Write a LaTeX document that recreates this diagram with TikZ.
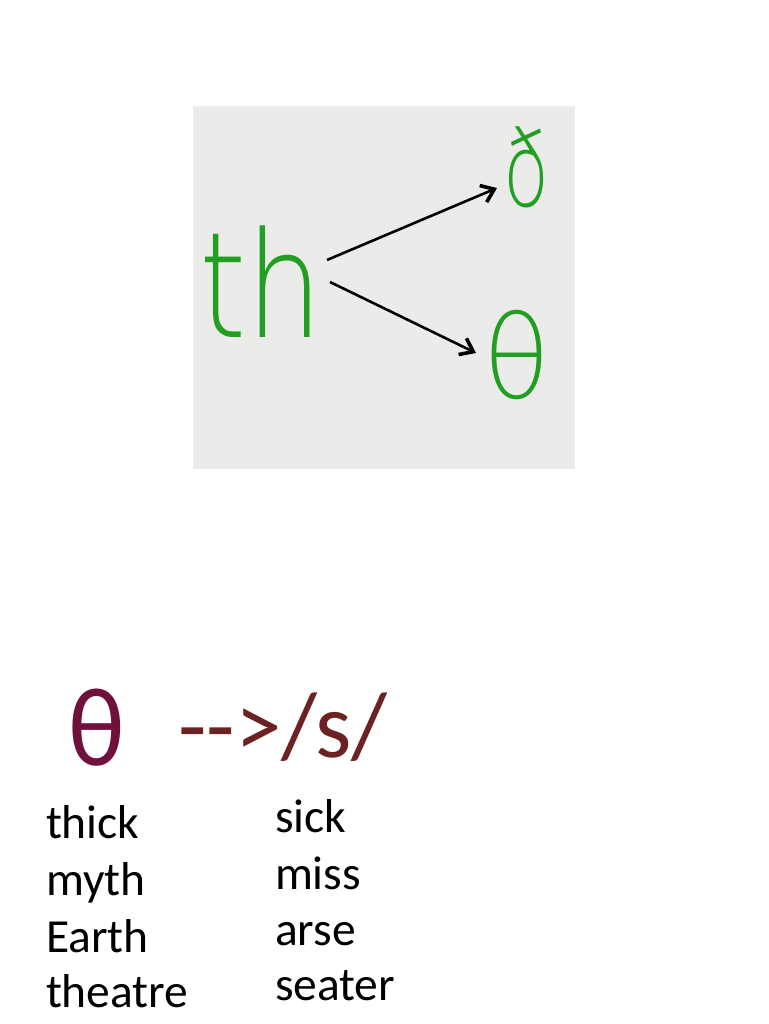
\documentclass[tikz,border=0pt]{standalone}
\usepackage{fontspec}
\usetikzlibrary{arrows.meta}
\setmainfont{Carlito}
\newfontfamily\handfont{DejaVu Sans ExtraLight}
\definecolor{boxgray}{RGB}{235,235,234}
\definecolor{handgreen}{RGB}{34,158,34}
\definecolor{thetared}{RGB}{112,16,60}
\definecolor{arrowred}{RGB}{108,34,34}
\tikzset{
  hand/.style={inner sep=0pt, outer sep=0pt, text=handgreen, anchor=base, font=\handfont},
  word/.style={inner sep=0pt, outer sep=0pt, anchor=base west, font=\fontsize{47.5}{54}\selectfont},
  sketcharrow/.style={draw=black, line width=2.6pt, -{Straight Barb[length=12pt,width=18pt,line width=3.6pt]}}
}
\begin{document}
\begin{tikzpicture}[x=1pt,y=-1pt]
\useasboundingbox (0,0) rectangle (768,1024);
\fill[white] (0,0) rectangle (768,1024);
% image panel
\fill[boxgray] (193,106) rectangle (575,469);
\node[hand, font=\handfont\fontsize{147}{150}\selectfont] (th) at (261,337) {\scalebox{0.82}[1]{th}};
\node[hand, font=\handfont\fontsize{105}{110}\selectfont] (eth) at (527,207) {\scalebox{0.72}[1]{ð}};
\node[hand, font=\handfont\fontsize{115}{118}\selectfont] (thetaG) at (517,398) {\scalebox{0.95}[1]{θ}};
\coordinate (a1s) at (327,260);
\coordinate (a1e) at (497,188);
\coordinate (a2s) at (330,282);
\coordinate (a2e) at (476,353);
\draw[sketcharrow] (a1s) -- (a1e);
\draw[sketcharrow] (a2s) -- (a2e);
% bottom
\node[inner sep=0pt, anchor=base, text=thetared, font=\fontsize{112}{115}\selectfont] (thetaB) at (97,765) {\scalebox{0.95}[1]{θ}};
\node[inner sep=0pt, anchor=base west, text=arrowred, font=\fontsize{93}{96}\selectfont] (rule) at (178,757) {-{}->/s/};
\node[word] (w1) at (46,838) {thick};
\node[word] (w2) at (46,895) {myth};
\node[word] (w3) at (46,952) {Earth};
\node[word] (w4) at (46,1007) {theatre};
\node[word] (s1) at (275,832) {sick};
\node[word] (s2) at (275,889) {miss};
\node[word] (s3) at (275,945) {arse};
\node[word] (s4) at (275,1000) {seater};
\end{tikzpicture}
\end{document}
